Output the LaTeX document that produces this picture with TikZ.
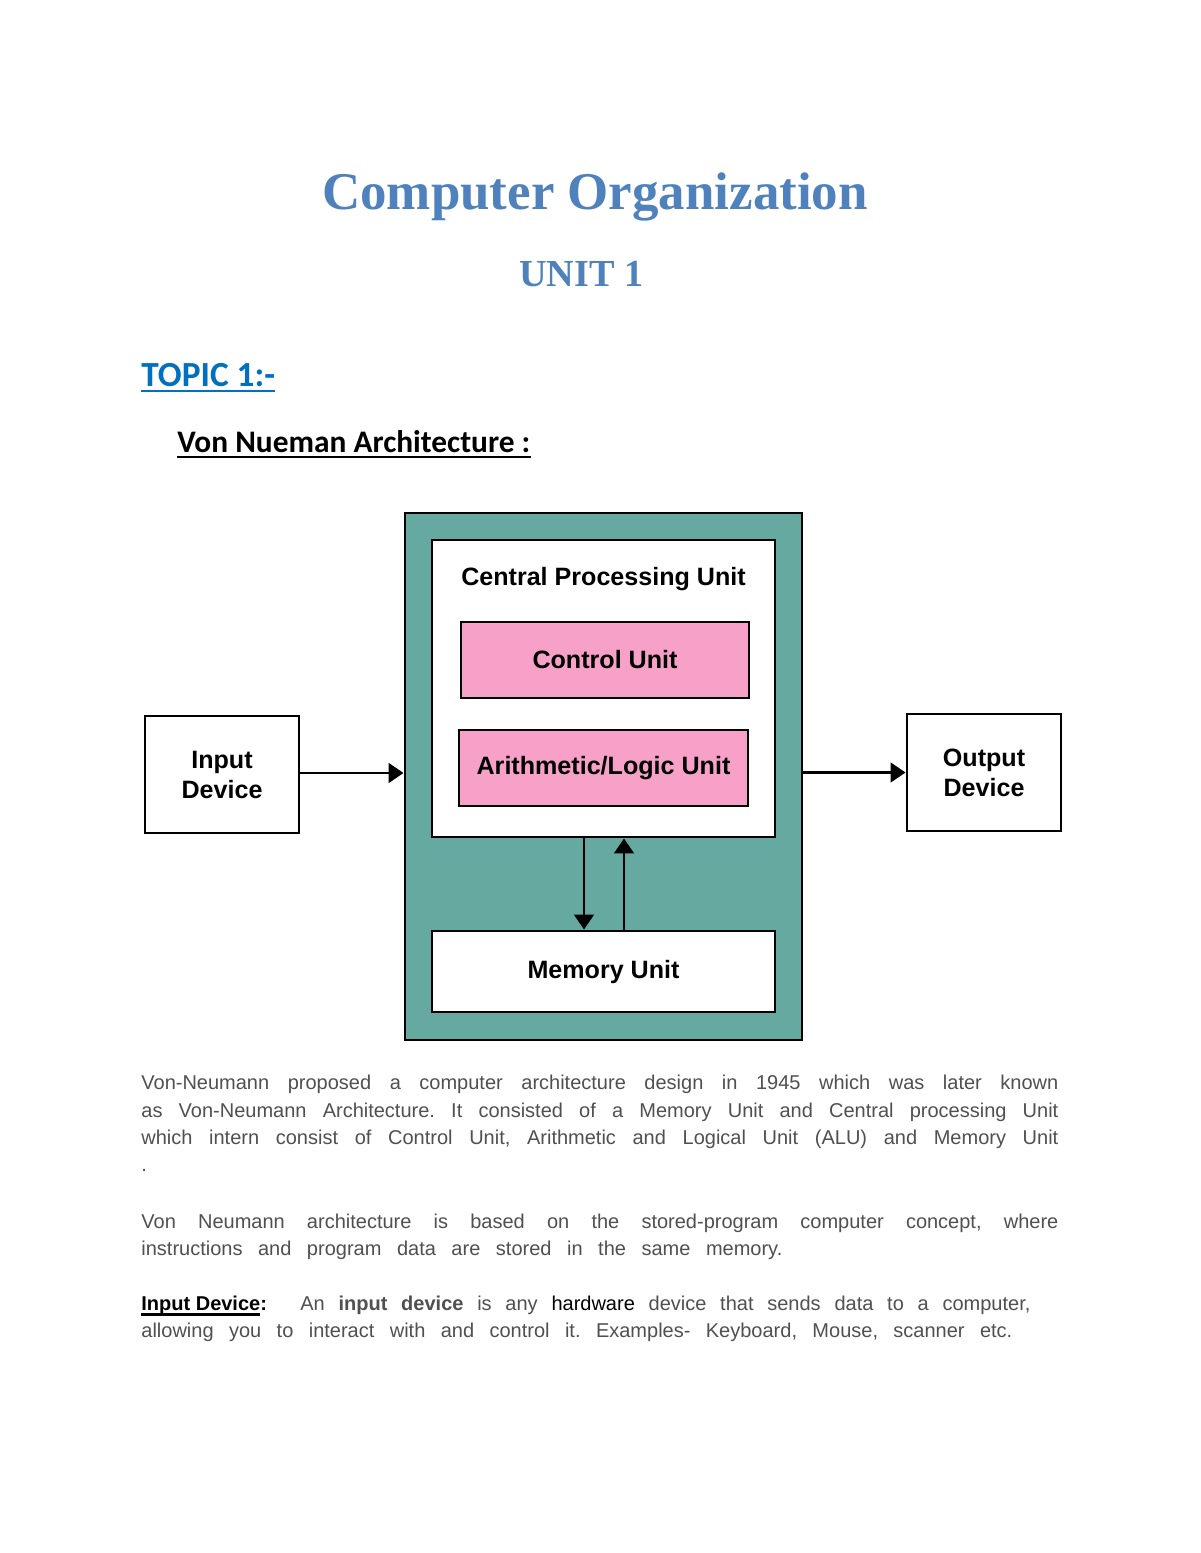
\documentclass[tikz,border=0pt]{standalone}
\usepackage{fontspec}
\setmainfont{Liberation Sans}
\newfontfamily\titlefont{Liberation Serif}
\newfontfamily\calfont{Carlito}
\usetikzlibrary{arrows.meta,calc}
\definecolor{teal1}{RGB}{102,169,160}
\definecolor{pink1}{RGB}{247,160,200}
\definecolor{titleblue}{RGB}{79,129,189}
\definecolor{topicblue}{RGB}{0,112,192}
\definecolor{bodygray}{RGB}{80,80,80}
\newcommand\ulthick[1]{\setbox0\hbox{#1}\rlap{\rule[-2.8pt]{\wd0}{1.2pt}}\box0}
\frenchspacing
\begin{document}
\begin{tikzpicture}[x=0.51pt,y=-0.51pt,
  box/.style={draw=black,line width=1.5pt,fill=white,inner sep=0pt,align=center,
    font=\fontsize{12.8}{15.3}\selectfont\bfseries},
  pinkbox/.style={box,fill=pink1},
  arr/.style={line width=1.3pt,-{Triangle[length=7.6pt,width=10pt]}},
  body/.style={anchor=base west,inner sep=0pt,text=bodygray,font=\fontsize{10.2}{12}\selectfont}
]
\useasboundingbox (0,0) rectangle (1200,1553);
\fill[white] (0,0) rectangle (1200,1553);

% headings
\node[anchor=base,inner sep=0pt,text=titleblue,font=\titlefont\fontsize{27}{30}\selectfont\bfseries] (title) at (595,210) {Computer Organization};
\node[anchor=base,inner sep=0pt,text=titleblue,font=\titlefont\fontsize{19.5}{22}\selectfont\bfseries] (unit) at (581.5,287) {UNIT 1};
\node[anchor=base west,inner sep=0pt,text=topicblue,font=\calfont\fontsize{18}{20}\selectfont\bfseries] (topic) at (141,386) {TOPIC 1:-};
\draw[topicblue,line width=1.4pt] ($(topic.base west)+(0,5)$) -- ($(topic.base east)+(0,5)$);
\node[anchor=base west,inner sep=0pt,text=black,font=\calfont\fontsize{16}{18}\selectfont\bfseries] (vna) at (177,452) {Von Nueman Architecture :};
\draw[black,line width=1.3pt] ($(vna.base west)+(0,5)$) -- ($(vna.base east)+(0,5)$);

% diagram
\node[box,fill=teal1,minimum width=397*0.51pt,minimum height=527*0.51pt] (outer) at (603.5,776.5) {};
\node[box,minimum width=343*0.51pt,minimum height=297*0.51pt] (cpu) at (603.5,688.5) {};
\node[inner sep=0pt,font=\fontsize{12.8}{15.3}\selectfont\bfseries] (cpulabel) at (603.5,579) {Central Processing Unit};
\node[pinkbox,minimum width=288*0.51pt,minimum height=76*0.51pt] (cu) at (605,660) {Control Unit};
\node[pinkbox,minimum width=289*0.51pt,minimum height=76*0.51pt] (alu) at (603.5,768) {Arithmetic/Logic Unit};
\node[box,minimum width=343*0.51pt,minimum height=81*0.51pt] (mem) at (603.5,971.5) {Memory Unit};
\node[box,minimum width=154*0.51pt,minimum height=117*0.51pt] (input) at (222,774.5) {Input\\Device};
\node[box,minimum width=154*0.51pt,minimum height=117*0.51pt] (output) at (984,772.5) {Output\\Device};

\draw[arr] ($(cpu.south)+(-19.5,0)$) -- ($(mem.north)+(-19.5,0)$);
\draw[arr] ($(mem.north)+(20.5,0)$) -- ($(cpu.south)+(20.5,0)$);
\draw[arr] ($(input.east)+(0,-1.5)$) -- ($(input.east -| outer.west)+(0,-1.5)$);
\draw[arr] (output.west -| outer.east) -- (output.west);

% body text
\node[body] (p1a) at (141,1089) {\makebox[467.67pt][s]{Von-Neumann proposed a computer architecture design in 1945 which was later known}};
\node[body] (p1b) at (141,1117) {\makebox[467.67pt][s]{as Von-Neumann Architecture. It consisted of a Memory Unit and Central processing Unit}};
\node[body] (p1c) at (141,1144) {\makebox[467.67pt][s]{which intern consist of Control Unit, Arithmetic and Logical Unit (ALU) and Memory Unit}};
\node[body] (p1d) at (141,1171) {.};
\node[body] (p2a) at (141,1228) {\makebox[467.67pt][s]{Von Neumann architecture is based on the stored-program computer concept, where}};
\node[body] (p2b) at (141,1255) {\makebox[326.91pt][s]{instructions and program data are stored in the same memory.}};
\node[body] (p3a) at (141,1310) {\makebox[453.39pt][s]{\textcolor{black}{\bfseries\ulthick{Input Device}:}\hspace{10pt} An \textbf{input device} is any \textcolor{black}{hardware} device that sends data to a computer,}};
\node[body] (p3b) at (141,1337) {\makebox[444.21pt][s]{allowing you to interact with and control it. Examples- Keyboard, Mouse, scanner etc.}};
\end{tikzpicture}
\end{document}
